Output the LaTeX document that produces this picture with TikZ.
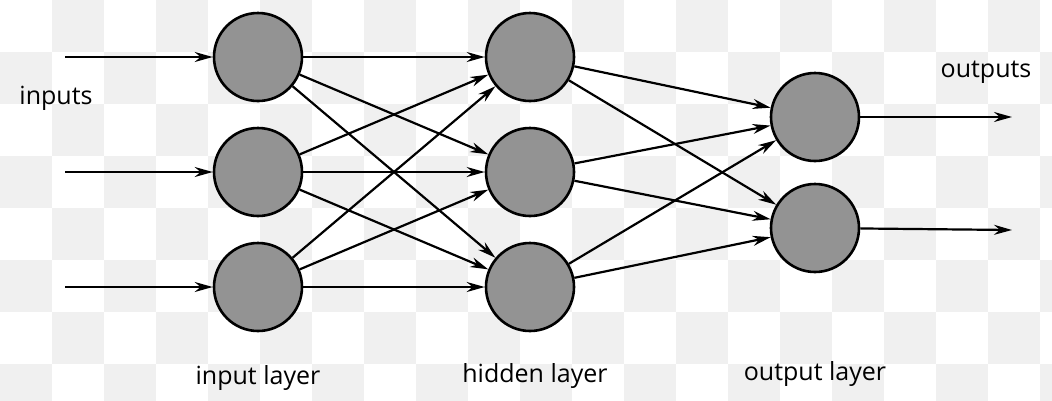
\documentclass[tikz,border=0pt]{standalone}
\usepackage{fontspec}
\setmainfont{Open Sans}
\usetikzlibrary{arrows.meta}
\begin{document}
\begin{tikzpicture}[x=1pt,y=-1pt,
  neuron/.style={circle,draw=black,line width=2.6pt,fill=gray!85!white,minimum size=88pt,inner sep=0pt},
  conn/.style={line width=2.2pt,-{Stealth[length=18pt,width=10pt]}},
  lbl/.style={font=\fontsize{25}{28}\selectfont}]
\useasboundingbox (0,0) rectangle (1052,400);
\fill[white] (0,0) rectangle (1052,400);
\foreach \i in {0,...,20}{\foreach \j in {0,...,7}{
  \pgfmathtruncatemacro{\p}{mod(\i+\j,2)}
  \ifnum\p=1 \fill[gray!12] (\i*52,\j*52) rectangle ++(52,52);\fi}}
\node[neuron] (i1) at (258,57) {};
\node[neuron] (i2) at (258,172) {};
\node[neuron] (i3) at (258,287) {};
\node[neuron] (h1) at (530,57) {};
\node[neuron] (h2) at (530,172) {};
\node[neuron] (h3) at (530,287) {};
\node[neuron] (o1) at (815,117) {};
\node[neuron] (o2) at (815,228) {};
\coordinate (a1) at (65,57); \coordinate (a2) at (65,172); \coordinate (a3) at (65,287);
\coordinate (b1) at (1012,117); \coordinate (b2) at (1012,230);
\draw[conn] (a1) -- (i1); \draw[conn] (a2) -- (i2); \draw[conn] (a3) -- (i3);
\foreach \s in {i1,i2,i3}{\foreach \t in {h1,h2,h3}{\draw[conn] (\s) -- (\t);}}
\foreach \s in {h1,h2,h3}{\foreach \t in {o1,o2}{\draw[conn] (\s) -- (\t);}}
\draw[conn] (o1) -- (b1); \draw[conn] (o2) -- (b2);
\node[lbl] (tin) at (56,98) {inputs};
\node[lbl] (tout) at (986,72) {outputs};
\node[lbl] (l1) at (258,378) {input layer};
\node[lbl] (l2) at (535,376) {hidden layer};
\node[lbl] (l3) at (815,374) {output layer};
\end{tikzpicture}
\end{document}
